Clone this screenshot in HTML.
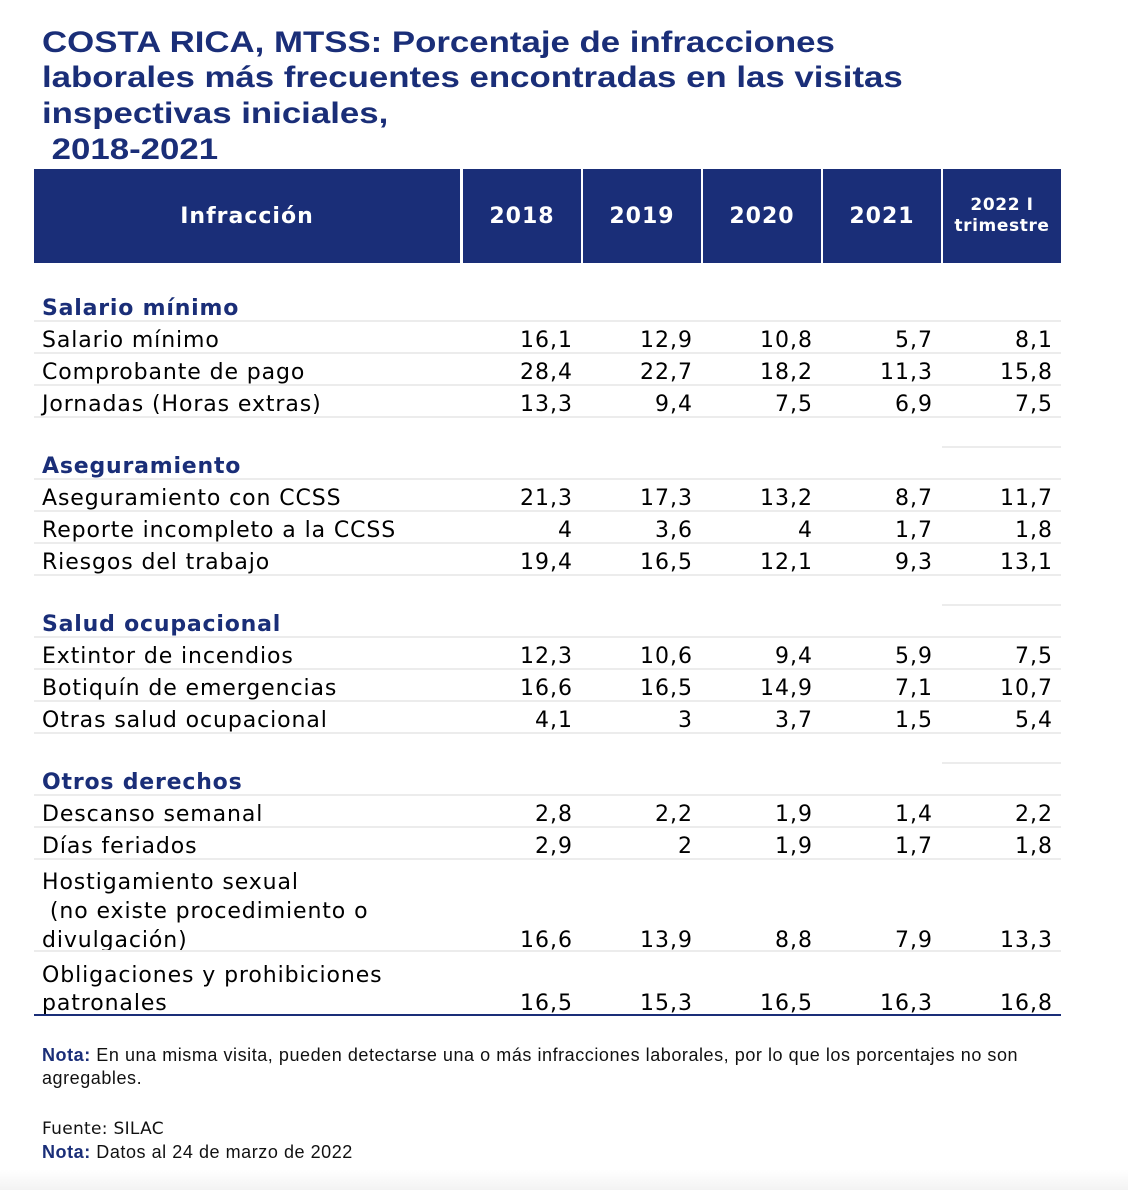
<!DOCTYPE html>
<html><head><meta charset="utf-8">
<style>
body{margin:0;width:1128px;height:1190px;background:#fff;position:relative;overflow:hidden;font-family:"DejaVu Sans","Liberation Sans",sans-serif;}
.t{position:absolute;left:42px;font-family:"Liberation Sans",sans-serif;font-weight:bold;font-size:30px;color:#1a2e78;white-space:nowrap;line-height:36px;transform:scaleX(1.16);transform-origin:0 0;}
.hd{position:absolute;top:169px;height:94px;background:#1a2e78;}
.hx{position:absolute;color:#fff;font-weight:bold;font-size:22px;letter-spacing:1px;text-align:center;}
.r{position:absolute;height:30px;line-height:30px;font-size:22px;letter-spacing:0.9px;color:#000;white-space:nowrap;margin-top:2px;}
.c{font-weight:bold;color:#1a2e78;letter-spacing:0.8px;}
.v{position:absolute;width:110px;text-align:right;height:30px;line-height:30px;font-size:22px;letter-spacing:1px;margin-top:2px;}
.ln{position:absolute;left:34px;width:1027px;height:2px;background:#ececec;}
.sl{position:absolute;left:942px;width:119px;height:2px;background:#ececec;}
.n{position:absolute;left:42px;font-family:"Liberation Sans",sans-serif;font-size:18px;letter-spacing:0.55px;color:#111;white-space:nowrap;}
.n b{color:#1a2e78;}
</style></head><body>
<div class="t" style="top:25px">COSTA RICA, MTSS: Porcentaje de infracciones</div>
<div class="t" style="top:60px">laborales más frecuentes encontradas en las visitas</div>
<div class="t" style="top:96px">inspectivas iniciales,</div>
<div class="t" style="top:132px">&nbsp;2018-2021</div>

<div class="hd" style="left:34px;width:426px"></div>
<div class="hd" style="left:463px;width:118px"></div>
<div class="hd" style="left:583px;width:118px"></div>
<div class="hd" style="left:703px;width:118px"></div>
<div class="hd" style="left:823px;width:118px"></div>
<div class="hd" style="left:943px;width:118px"></div>
<div class="hx" style="left:34px;width:426px;top:204px">Infracción</div>
<div class="hx" style="left:463px;width:118px;top:204px">2018</div>
<div class="hx" style="left:583px;width:118px;top:204px">2019</div>
<div class="hx" style="left:703px;width:118px;top:204px">2020</div>
<div class="hx" style="left:823px;width:118px;top:204px">2021</div>
<div class="hx" style="left:943px;width:118px;top:195px;font-size:17px;line-height:21px;letter-spacing:0.6px">2022 I<br>trimestre</div>

<div class="r c" style="left:42px;top:292px">Salario mínimo</div>
<div class="ln" style="top:320px"></div>
<div class="r" style="left:42px;top:324px">Salario mínimo</div>
<div class="v" style="left:463px;top:324px">16,1</div><div class="v" style="left:583px;top:324px">12,9</div><div class="v" style="left:703px;top:324px">10,8</div><div class="v" style="left:823px;top:324px">5,7</div><div class="v" style="left:943px;top:324px">8,1</div>
<div class="ln" style="top:352px"></div>
<div class="r" style="left:42px;top:356px">Comprobante de pago</div>
<div class="v" style="left:463px;top:356px">28,4</div><div class="v" style="left:583px;top:356px">22,7</div><div class="v" style="left:703px;top:356px">18,2</div><div class="v" style="left:823px;top:356px">11,3</div><div class="v" style="left:943px;top:356px">15,8</div>
<div class="ln" style="top:384px"></div>
<div class="r" style="left:42px;top:388px">Jornadas (Horas extras)</div>
<div class="v" style="left:463px;top:388px">13,3</div><div class="v" style="left:583px;top:388px">9,4</div><div class="v" style="left:703px;top:388px">7,5</div><div class="v" style="left:823px;top:388px">6,9</div><div class="v" style="left:943px;top:388px">7,5</div>
<div class="ln" style="top:416px"></div>
<div class="sl" style="top:446px"></div>

<div class="r c" style="left:42px;top:450px">Aseguramiento</div>
<div class="ln" style="top:478px"></div>
<div class="r" style="left:42px;top:482px">Aseguramiento con CCSS</div>
<div class="v" style="left:463px;top:482px">21,3</div><div class="v" style="left:583px;top:482px">17,3</div><div class="v" style="left:703px;top:482px">13,2</div><div class="v" style="left:823px;top:482px">8,7</div><div class="v" style="left:943px;top:482px">11,7</div>
<div class="ln" style="top:510px"></div>
<div class="r" style="left:42px;top:514px">Reporte incompleto a la CCSS</div>
<div class="v" style="left:463px;top:514px">4</div><div class="v" style="left:583px;top:514px">3,6</div><div class="v" style="left:703px;top:514px">4</div><div class="v" style="left:823px;top:514px">1,7</div><div class="v" style="left:943px;top:514px">1,8</div>
<div class="ln" style="top:542px"></div>
<div class="r" style="left:42px;top:546px">Riesgos del trabajo</div>
<div class="v" style="left:463px;top:546px">19,4</div><div class="v" style="left:583px;top:546px">16,5</div><div class="v" style="left:703px;top:546px">12,1</div><div class="v" style="left:823px;top:546px">9,3</div><div class="v" style="left:943px;top:546px">13,1</div>
<div class="ln" style="top:574px"></div>
<div class="sl" style="top:604px"></div>

<div class="r c" style="left:42px;top:608px">Salud ocupacional</div>
<div class="ln" style="top:636px"></div>
<div class="r" style="left:42px;top:640px">Extintor de incendios</div>
<div class="v" style="left:463px;top:640px">12,3</div><div class="v" style="left:583px;top:640px">10,6</div><div class="v" style="left:703px;top:640px">9,4</div><div class="v" style="left:823px;top:640px">5,9</div><div class="v" style="left:943px;top:640px">7,5</div>
<div class="ln" style="top:668px"></div>
<div class="r" style="left:42px;top:672px">Botiquín de emergencias</div>
<div class="v" style="left:463px;top:672px">16,6</div><div class="v" style="left:583px;top:672px">16,5</div><div class="v" style="left:703px;top:672px">14,9</div><div class="v" style="left:823px;top:672px">7,1</div><div class="v" style="left:943px;top:672px">10,7</div>
<div class="ln" style="top:700px"></div>
<div class="r" style="left:42px;top:704px">Otras salud ocupacional</div>
<div class="v" style="left:463px;top:704px">4,1</div><div class="v" style="left:583px;top:704px">3</div><div class="v" style="left:703px;top:704px">3,7</div><div class="v" style="left:823px;top:704px">1,5</div><div class="v" style="left:943px;top:704px">5,4</div>
<div class="ln" style="top:732px"></div>
<div class="sl" style="top:762px"></div>

<div class="r c" style="left:42px;top:766px">Otros derechos</div>
<div class="ln" style="top:794px"></div>
<div class="r" style="left:42px;top:798px">Descanso semanal</div>
<div class="v" style="left:463px;top:798px">2,8</div><div class="v" style="left:583px;top:798px">2,2</div><div class="v" style="left:703px;top:798px">1,9</div><div class="v" style="left:823px;top:798px">1,4</div><div class="v" style="left:943px;top:798px">2,2</div>
<div class="ln" style="top:826px"></div>
<div class="r" style="left:42px;top:830px">Días feriados</div>
<div class="v" style="left:463px;top:830px">2,9</div><div class="v" style="left:583px;top:830px">2</div><div class="v" style="left:703px;top:830px">1,9</div><div class="v" style="left:823px;top:830px">1,7</div><div class="v" style="left:943px;top:830px">1,8</div>
<div class="ln" style="top:858px"></div>
<div class="r" style="left:42px;top:866px">Hostigamiento sexual</div>
<div class="r" style="left:42px;top:895px">&nbsp;(no existe procedimiento o</div>
<div class="r" style="left:42px;top:924px">divulgación)</div>
<div class="v" style="left:463px;top:924px">16,6</div><div class="v" style="left:583px;top:924px">13,9</div><div class="v" style="left:703px;top:924px">8,8</div><div class="v" style="left:823px;top:924px">7,9</div><div class="v" style="left:943px;top:924px">13,3</div>
<div class="ln" style="top:950px"></div>
<div class="r" style="left:42px;top:959px">Obligaciones y prohibiciones</div>
<div class="r" style="left:42px;top:987px">patronales</div>
<div class="v" style="left:463px;top:987px">16,5</div><div class="v" style="left:583px;top:987px">15,3</div><div class="v" style="left:703px;top:987px">16,5</div><div class="v" style="left:823px;top:987px">16,3</div><div class="v" style="left:943px;top:987px">16,8</div>
<div style="position:absolute;left:34px;top:1014px;width:1027px;height:2px;background:#1a2e78"></div>

<div class="n" style="top:1045px"><b>Nota:</b> En una misma visita, pueden detectarse una o más infracciones laborales, por lo que los porcentajes no son</div>
<div class="n" style="top:1068px">agregables.</div>
<div class="n" style="top:1119px;font-family:'DejaVu Sans',sans-serif;font-size:17px;letter-spacing:0.3px">Fuente: SILAC</div>
<div class="n" style="top:1142px"><b>Nota:</b> Datos al 24 de marzo de 2022</div>
<div style="position:absolute;left:0;top:1170px;width:1128px;height:20px;background:linear-gradient(#fff,#f3f3f3)"></div>
</body></html>
